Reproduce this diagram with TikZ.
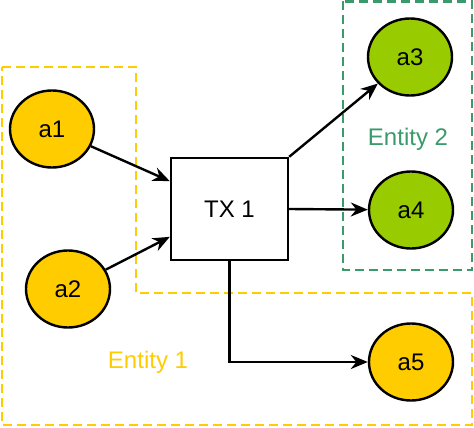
\documentclass[tikz,border=0pt]{standalone}
\usepackage{fontspec}
\setmainfont{Liberation Sans}
\usetikzlibrary{arrows.meta,shapes.geometric}
\definecolor{entyellow}{HTML}{FFCC00}
\definecolor{entlime}{HTML}{99CC00}
\definecolor{entgreen}{HTML}{3A9A6B}
\tikzset{
  account/.style={ellipse,draw,line width=2.4pt,inner sep=0pt,minimum width=84pt,minimum height=77pt},
  txbox/.style={rectangle,draw,line width=2.4pt,minimum width=117pt,minimum height=102pt},
  flow/.style={line width=2.4pt,-{Stealth[length=17pt,width=14pt]}},
  entityline/.style={line width=2.4pt,dash pattern=on 9pt off 5pt}
}
\begin{document}
\begin{tikzpicture}[x=1pt,y=-1pt,font=\fontsize{24}{28}\selectfont]
    \useasboundingbox (0,0) rectangle (474,428);
    % entities
    \draw[entityline,entyellow] (2,67)--(136,67)--(136,293)--(472,293)--(472,425)--(2,425)--cycle;
    \draw[entityline,entgreen] (343,1.5) rectangle (472,270);
    \node[text=entgreen] (ent2) at (408,139) {Entity 2};
    \node[text=entyellow] (ent1) at (148,362) {Entity 1};
    % accounts and transaction
    \node[account,fill=entyellow] (a1) at (52,129) {a1};
    \node[account,fill=entyellow] (a2) at (68,289) {a2};
    \node[account,fill=entlime] (a3) at (410,57) {a3};
    \node[account,fill=entlime] (a4) at (411,210) {a4};
    \node[account,fill=entyellow] (a5) at (411,362) {a5};
    \node[txbox,fill=white] (tx) at (229.5,209) {TX 1};
    \draw[flow] (a1)--(tx.155);
    \draw[flow] (a2)--(tx.205);
    \draw[flow] (tx.north east)--(a3);
    \draw[flow] (tx.east)--(a4);
    \draw[flow] (tx.south)|-(a5);
  \end{tikzpicture}
\end{document}
